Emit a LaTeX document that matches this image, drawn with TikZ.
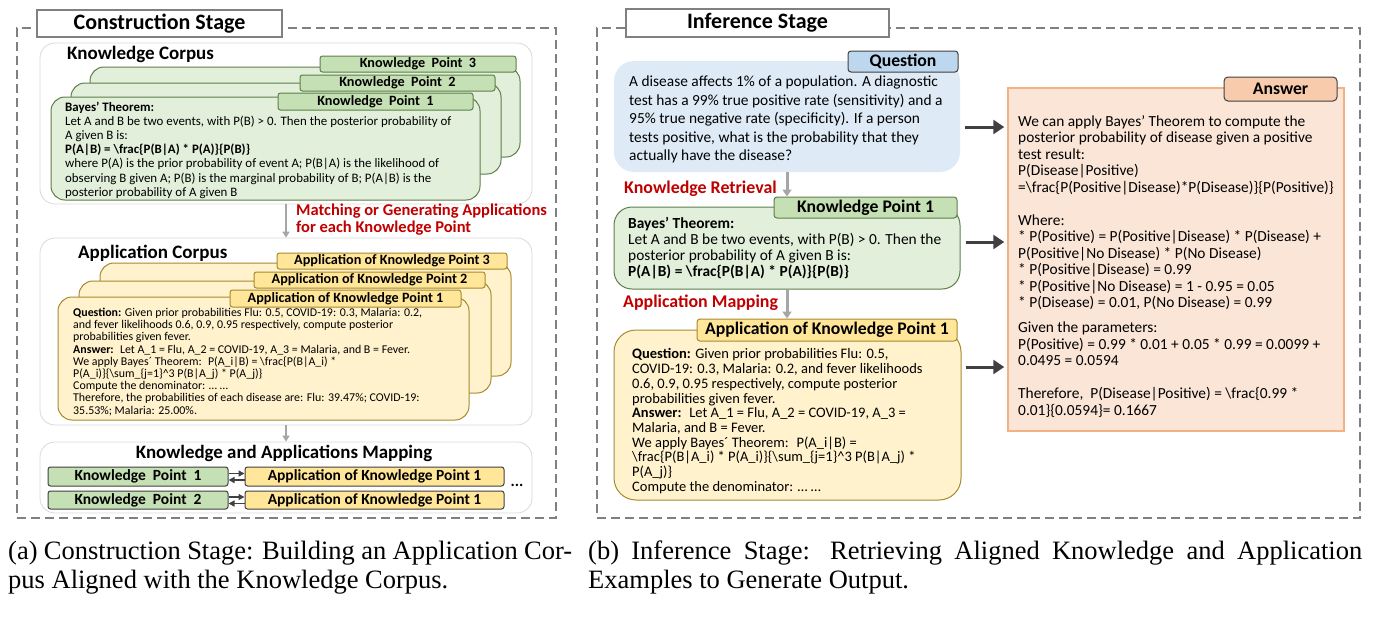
\documentclass[tikz,border=0pt]{standalone}
\usepackage{fontspec}
\setmainfont{Carlito}
\newfontfamily\capfont{Liberation Serif}
\usetikzlibrary{arrows.meta,fit,calc}
\definecolor{framegray}{HTML}{808080}
\definecolor{lightborder}{HTML}{D9D9D9}
\definecolor{kfill}{HTML}{E2EFDA}
\definecolor{ktabfill}{HTML}{C5E0B4}
\definecolor{kborder}{HTML}{5E7F4A}
\definecolor{afill}{HTML}{FFF2CC}
\definecolor{atabfill}{HTML}{FFE699}
\definecolor{aborder}{HTML}{A68A2E}
\definecolor{qfill}{HTML}{DEEBF7}
\definecolor{qtabfill}{HTML}{BDD7EE}
\definecolor{ansfill}{HTML}{FBE5D6}
\definecolor{ansborder}{HTML}{F4B183}
\definecolor{anstabfill}{HTML}{F8CBAD}
\definecolor{darkred}{HTML}{C00000}
\definecolor{arrowgray}{HTML}{A6A6A6}
\definecolor{darkline}{HTML}{404040}
\begin{document}
\begin{tikzpicture}[x=1pt,y=-1pt,
  dashedframe/.style={draw=framegray, line width=1.6pt, dash pattern=on 9pt off 5pt},
  titlebox/.style={draw=framegray, fill=white, line width=1.4pt, inner sep=0pt},
  titlefont/.style={inner sep=0pt, font=\fontsize{22}{26}\selectfont\bfseries},
  container/.style={draw=lightborder, fill=white, rounded corners=15pt, line width=0.8pt, inner sep=0pt},
  kcard/.style={draw=kborder, fill=kfill, rounded corners=14pt, line width=1pt, inner sep=0pt},
  ktab/.style={draw=kborder, fill=ktabfill, rounded corners=2.5pt, line width=1pt, inner sep=0pt},
  acard/.style={draw=aborder, fill=afill, rounded corners=14pt, line width=1pt, inner sep=0pt},
  atab/.style={draw=aborder, fill=atabfill, rounded corners=2.5pt, line width=1pt, inner sep=0pt},
  smalltabfont/.style={inner sep=0pt, font=\fontsize{14.2}{16}\selectfont\bfseries},
  maptabfont/.style={inner sep=0pt, font=\fontsize{15.5}{17}\selectfont\bfseries},
  bigtabfont/.style={inner sep=0pt, font=\fontsize{17.7}{20}\selectfont\bfseries},
  mapk/.style={draw=darkline, fill=ktabfill, rounded corners=2.5pt, line width=1pt, inner sep=0pt},
  mapa/.style={draw=darkline, fill=atabfill, rounded corners=2.5pt, line width=1pt, inner sep=0pt},
  sectitle/.style={inner sep=0pt, font=\fontsize{19}{22}\selectfont\bfseries},
  redlabel/.style={inner sep=0pt, text=darkred, font=\fontsize{16.5}{17}\selectfont\bfseries, align=left},
  bodytext/.style={inner sep=0pt, anchor=north west, align=left},
  grayarrow/.style={draw=arrowgray, line width=2pt, -{Triangle[length=6pt,width=7pt]}},
  grayarrowthick/.style={draw=arrowgray, line width=3pt, -{Triangle[length=7pt,width=9pt]}},
  blackarrow/.style={draw=darkline, line width=3pt, -{Triangle[length=11pt,width=14pt]}},
  maparrow/.style={draw=darkline, line width=1.5pt, -{Triangle[length=6pt,width=6pt]}}
]
\useasboundingbox (0,0) rectangle (1374,621);

% ================= LEFT: Construction Stage =================
\node[dashedframe, fit={(17,28) (556,518)}, inner sep=0pt] (lframe) {};
\node[titlebox, fit={(37,10) (282,37)}, label={[titlefont]center:Construction Stage}] (ltitle) {};

% Knowledge corpus
\node[container, fit={(40,43) (532,204)}] (kc) {};
\node[sectitle, anchor=west] (kctitle) at (67,54) {Knowledge Corpus};
\node[kcard, fit={(90,67) (520,157)}] (kcard3) {};
\node[ktab, fit={(320,56) (516,72)}, label={[smalltabfont]center:Knowledge~ Point~ 3}] (ktab3) {};
\node[kcard, fit={(71,83) (501,174)}] (kcard2) {};
\node[ktab, fit={(300,75) (495,91)}, label={[smalltabfont]center:Knowledge~ Point~ 2}] (ktab2) {};
\node[kcard, fit={(51,97) (480,200)}] (kcard1) {};
\node[ktab, fit={(278,93) (473,110)}, label={[smalltabfont]center:Knowledge~ Point~ 1}] (ktab1) {};
\node[bodytext, font=\fontsize{12.9}{14.2}\selectfont] (kctext) at (65,101.5) {%
\textbf{Bayes’ Theorem:}\\
Let A and B be two events, with P(B) > 0. Then the posterior probability of\\
A given B is:\\
\textbf{P(A|B) = \textbackslash frac\{P(B|A) * P(A)\}\{P(B)\}}\\
where P(A) is the prior probability of event A; P(B|A) is the likelihood of\\
observing B given A; P(B) is the marginal probability of B; P(A|B) is the\\
posterior probability of A given B};

% Application corpus
\node[container, fit={(40,238) (532,425)}] (ac) {};
\node[sectitle, anchor=west] (actitle) at (78,253) {Application Corpus};
\node[acard, fit={(100,263) (511,376)}] (acard3) {};
\node[atab, fit={(277,253) (507,269)}, label={[smalltabfont]center:Application of Knowledge Point 3}] (atab3) {};
\node[acard, fit={(79,281) (491,393)}] (acard2) {};
\node[atab, fit={(254,272) (485,288)}, label={[smalltabfont]center:Application of Knowledge Point 2}] (atab2) {};
\node[acard, fit={(58,297) (469,420)}] (acard1) {};
\node[atab, fit={(230,290) (461,307)}, label={[smalltabfont]center:Application of Knowledge Point 1}] (atab1) {};
\node[bodytext, font=\fontsize{11.9}{12.2}\selectfont] (actext) at (73,308) {%
\textbf{Question:} Given prior probabilities Flu: 0.5, COVID-19: 0.3, Malaria: 0.2,\\
and fever likelihoods 0.6, 0.9, 0.95 respectively, compute posterior\\
probabilities given fever.\\
\textbf{Answer:}~ Let A\_1 = Flu, A\_2 = COVID-19, A\_3 = Malaria, and B = Fever.\\
We apply Bayes´ Theorem:~ P(A\_i|B) = \textbackslash frac\{P(B|A\_i) *\\
P(A\_i)\}\{\textbackslash sum\_\{j=1\}\^{}3 P(B|A\_j) * P(A\_j)\}\\
Compute the denominator: … …\\
Therefore, the probabilities of each disease are: Flu: 39.47\%; COVID-19:\\
35.53\%; Malaria: 25.00\%.};

\draw[grayarrow] (kc.south) -- (ac.north);
\node[redlabel, anchor=north west] (matchlabel) at (296,204) {Matching or Generating Applications\\for each Knowledge Point};

% Mapping
\node[container, fit={(40,442) (532,513)}] (mapc) {};
\node[sectitle, font=\fontsize{18.9}{21}\selectfont\bfseries] (maptitle) at (284,453) {Knowledge and Applications Mapping};
\node[mapk, fit={(48,467) (228,486)}, label={[maptabfont]center:Knowledge~ Point~ 1}] (mk1) {};
\node[mapa, fit={(245,467) (504,486)}, label={[maptabfont]center:Application of Knowledge Point 1}] (ma1) {};
\node[mapk, fit={(48,491) (228,509)}, label={[maptabfont]center:Knowledge~ Point~ 2}] (mk2) {};
\node[mapa, fit={(245,491) (504,509)}, label={[maptabfont]center:Application of Knowledge Point 1}] (ma2) {};
\draw[maparrow] ($(mk1.east)+(0,-3)$) -- ($(ma1.west)+(0,-3)$);
\draw[maparrow] ($(ma1.west)+(0,3.5)$) -- ($(mk1.east)+(0,3.5)$);
\draw[maparrow] ($(mk2.east)+(0,-3)$) -- ($(ma2.west)+(0,-3)$);
\draw[maparrow] ($(ma2.west)+(0,3.5)$) -- ($(mk2.east)+(0,3.5)$);
\node[inner sep=0pt, font=\fontsize{16}{17}\selectfont\bfseries] (dots) at (517,485) {...};
\draw[grayarrow] (ac.south) -- (mapc.north);

% ================= RIGHT: Inference Stage =================
\node[dashedframe, fit={(597,28) (1360,518)}, inner sep=0pt] (rframe) {};
\node[titlebox, fit={(626,9) (889,37)}, label={[titlefont]center:Inference Stage}] (rtitle) {};

% Question
\node[fill=qfill, rounded corners=20pt, inner sep=0pt, fit={(614,61) (960,172)}] (q) {};
\node[draw=darkline, fill=qtabfill, rounded corners=3pt, line width=1pt, inner sep=0pt, fit={(848,51) (958,72)}, label={[bigtabfont]center:Question}] (qtab) {};
\node[bodytext, font=\fontsize{15.4}{18.5}\selectfont] (qtext) at (629,76) {%
A disease affects 1\% of a population. A diagnostic\\
test has a 99\% true positive rate (sensitivity) and a\\
95\% true negative rate (specificity). If a person\\
tests positive, what is the probability that they\\
actually have the disease?};

% Knowledge point
\node[kcard, rounded corners=18pt, fit={(614,207) (960,289)}] (kp) {};
\node[ktab, rounded corners=3pt, fit={(774,197) (957,218)}, label={[bigtabfont]center:Knowledge Point 1}] (kptab) {};
\node[bodytext, font=\fontsize{15.4}{16}\selectfont] (kptext) at (628,217) {%
\textbf{Bayes’ Theorem:}\\
Let A and B be two events, with P(B) > 0. Then the\\
posterior probability of A given B is:\\
\textbf{P(A|B) = \textbackslash frac\{P(B|A) * P(A)\}\{P(B)\}}};

% Application
\node[acard, rounded corners=22pt, fit={(614,330) (961,500)}] (ap) {};
\node[atab, rounded corners=3pt, fit={(697,319) (957,341)}, label={[bigtabfont]center:Application of Knowledge Point 1}] (aptab) {};
\node[bodytext, font=\fontsize{14.5}{14.7}\selectfont] (aptext) at (632,348.5) {%
\textbf{Question:} Given prior probabilities Flu: 0.5,\\
COVID-19: 0.3, Malaria: 0.2, and fever likelihoods\\
0.6, 0.9, 0.95 respectively, compute posterior\\
probabilities given fever.\\
\textbf{Answer:}~ Let A\_1 = Flu, A\_2 = COVID-19, A\_3 =\\
Malaria, and B = Fever.\\
We apply Bayes´ Theorem:~ P(A\_i|B) =\\
\textbackslash frac\{P(B|A\_i) * P(A\_i)\}\{\textbackslash sum\_\{j=1\}\^{}3 P(B|A\_j) *\\
P(A\_j)\}\\
Compute the denominator: … …};

\draw[grayarrowthick] (q.south) -- (q.south |- kptab.north);
\draw[grayarrowthick] (kp.south) -- (kp.south |- aptab.north);
\node[redlabel, anchor=west, font=\fontsize{17.9}{19}\selectfont\bfseries] (kretr) at (624,189) {Knowledge Retrieval};
\node[redlabel, anchor=west, font=\fontsize{17.9}{19}\selectfont\bfseries] (amap) at (623,303) {Application Mapping};

% Answer
\node[draw=ansborder, fill=ansfill, line width=1.5pt, inner sep=0pt, fit={(1008,88) (1344,431)}] (ans) {};
\node[draw=darkline, fill=anstabfill, rounded corners=4pt, line width=1pt, inner sep=0pt, fit={(1224,77) (1337,101)}, label={[bigtabfont]center:Answer}] (anstab) {};
\node[bodytext, font=\fontsize{15.4}{16.5}\selectfont] (anstext) at (1018,115) {%
We can apply Bayes’ Theorem to compute the\\
posterior probability of disease given a positive\\
test result:\\
P(Disease|Positive)\\
=\textbackslash frac\{P(Positive|Disease)*P(Disease)\}\{P(Positive)\}\\[16.5pt]
Where:\\
* P(Positive) = P(Positive|Disease) * P(Disease) +\\
P(Positive|No Disease) * P(No Disease)\\
* P(Positive|Disease) = 0.99\\
* P(Positive|No Disease) = 1 - 0.95 = 0.05\\
* P(Disease) = 0.01, P(No Disease) = 0.99\\[8.5pt]
Given the parameters:\\
P(Positive) = 0.99 * 0.01 + 0.05 * 0.99 = 0.0099 +\\
0.0495 = 0.0594\\[16.5pt]
Therefore,~ P(Disease|Positive) = \textbackslash frac\{0.99 *\\
0.01\}\{0.0594\}= 0.1667};

\draw[blackarrow] ($(q.east)+(5,10.5)$) -- ($(q.east -| ans.west)+(-3,10.5)$);
\draw[blackarrow] ($(kp.east)+(5,-6)$) -- ($(kp.east -| ans.west)+(-3,-6)$);
\draw[blackarrow] ($(ap.east)+(4,-48)$) -- ($(ap.east -| ans.west)+(-3,-48)$);

% ================= Captions =================
\node[inner sep=0pt, anchor=north west, text width=564pt, align=justify, font=\capfont\fontsize{26.5}{29}\selectfont] (capa) at (8,541) {\noindent(a)~Construction Stage: Building an Application Cor-\linebreak pus Aligned with the Knowledge Corpus.};
\node[inner sep=0pt, anchor=north west, text width=774pt, align=justify, font=\capfont\fontsize{26.5}{29}\selectfont] (capb) at (588,541) {\noindent(b)~Inference Stage: Retrieving Aligned Knowledge and Application\linebreak Examples to Generate Output.};
\end{tikzpicture}
\end{document}
